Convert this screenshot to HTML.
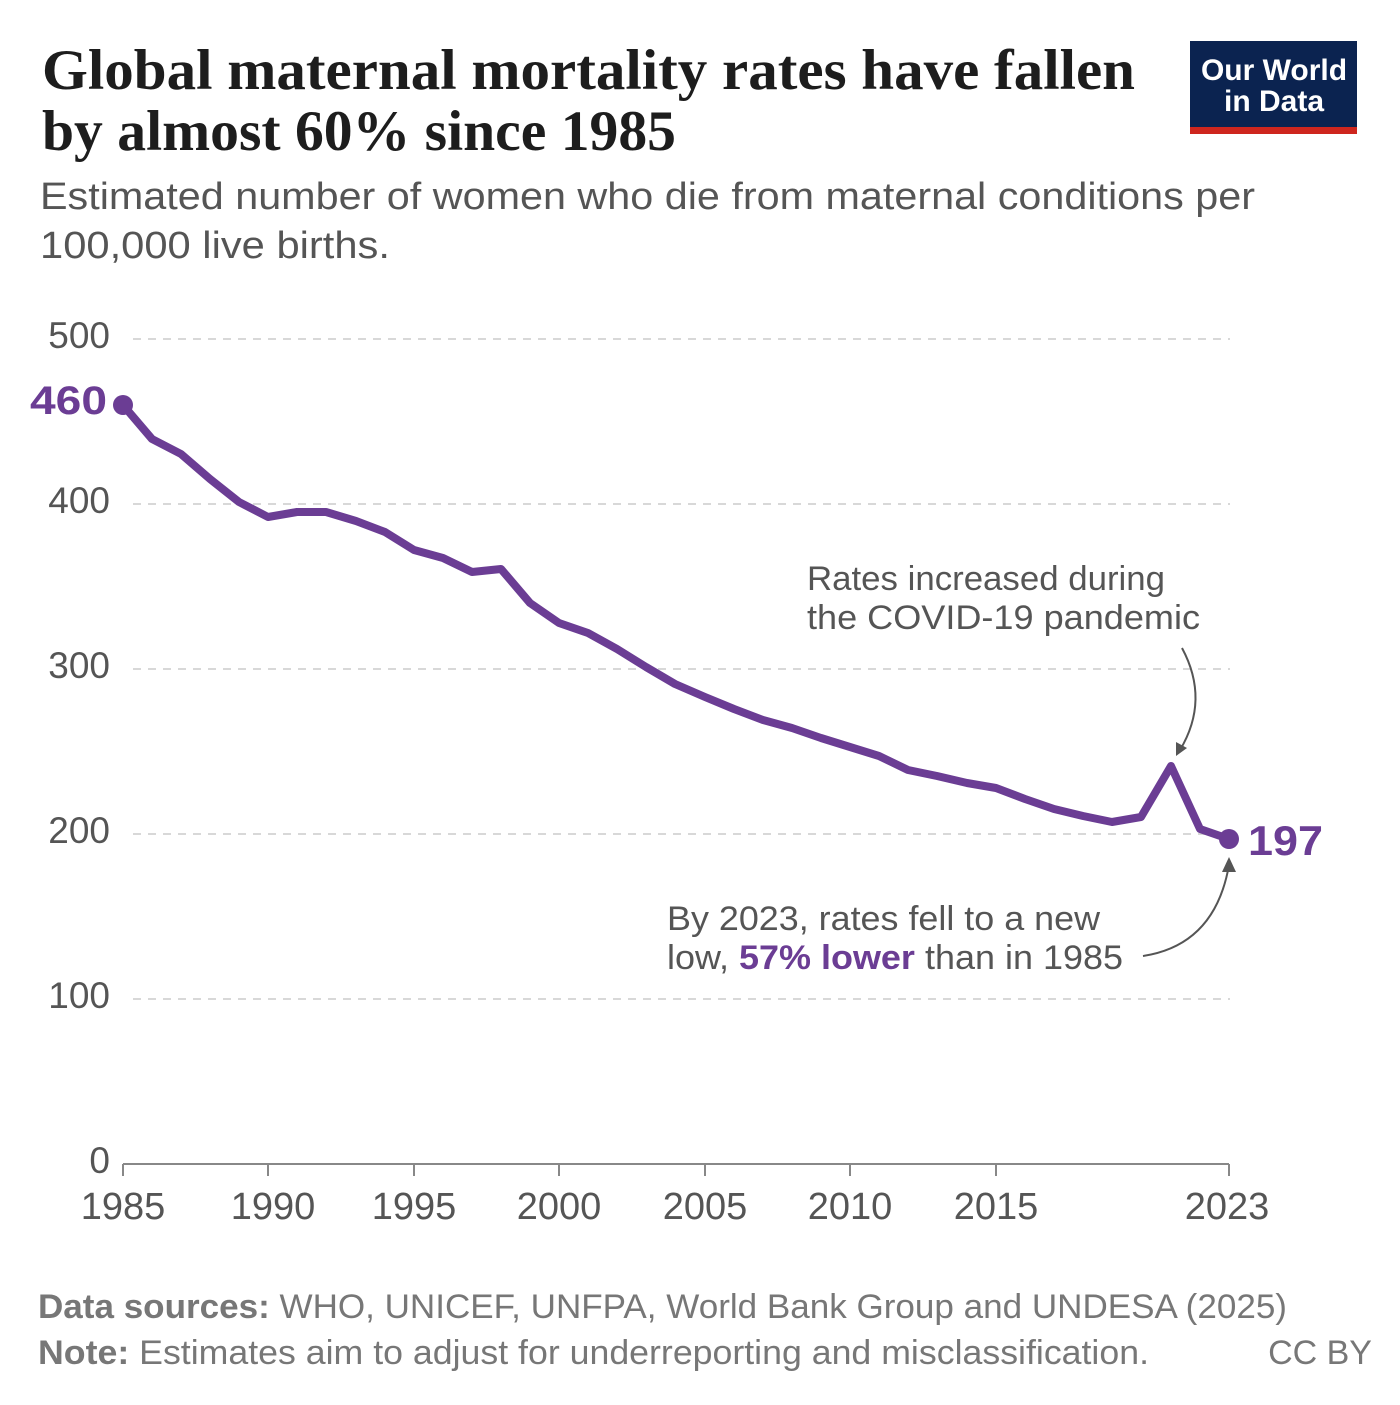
<!DOCTYPE html>
<html><head><meta charset="utf-8"><style>
html,body{margin:0;padding:0;background:#fff;}
body{width:1400px;height:1400px;overflow:hidden;}
</style></head><body>
<svg width="1400" height="1400" viewBox="0 0 1400 1400" xmlns="http://www.w3.org/2000/svg">
<rect width="1400" height="1400" fill="#fff"/>
<g font-family="Liberation Serif, serif" font-weight="bold" font-size="57" fill="#1d1d1d">
<text x="42" y="89" textLength="1093" lengthAdjust="spacingAndGlyphs">Global maternal mortality rates have fallen</text>
<text x="42" y="150" textLength="634" lengthAdjust="spacingAndGlyphs">by almost 60% since 1985</text>
</g>
<rect x="1190" y="41" width="167" height="93" fill="#0b2350"/>
<rect x="1190" y="127" width="167" height="7" fill="#ce261e"/>
<g font-family="Liberation Sans, sans-serif" font-size="30" fill="#fff" text-anchor="middle" font-weight="bold">
<text x="1274" y="80">Our World</text>
<text x="1274" y="111">in Data</text>
</g>
<g font-family="Liberation Sans, sans-serif" font-size="38" fill="#555">
<text x="40" y="209" textLength="1215" lengthAdjust="spacingAndGlyphs">Estimated number of women who die from maternal conditions per</text>
<text x="40" y="258" textLength="350" lengthAdjust="spacingAndGlyphs">100,000 live births.</text>
</g>
<g stroke="#d8d8d8" stroke-width="2" stroke-dasharray="8,7">
<line x1="133" y1="339" x2="1230" y2="339"/>
<line x1="133" y1="504" x2="1230" y2="504"/>
<line x1="133" y1="669" x2="1230" y2="669"/>
<line x1="133" y1="834" x2="1230" y2="834"/>
<line x1="133" y1="999" x2="1230" y2="999"/>
</g>
<g font-family="Liberation Sans, sans-serif" font-size="37" fill="#555" text-anchor="end">
<text x="110" y="348">500</text>
<text x="110" y="513">400</text>
<text x="110" y="678">300</text>
<text x="110" y="843">200</text>
<text x="110" y="1008">100</text>
<text x="110" y="1173">0</text>
</g>
<line x1="123" y1="1164" x2="1229" y2="1164" stroke="#888" stroke-width="2"/>
<g stroke="#888" stroke-width="2">
<line x1="123" y1="1164" x2="123" y2="1176"/><line x1="268" y1="1164" x2="268" y2="1176"/>
<line x1="414" y1="1164" x2="414" y2="1176"/><line x1="559" y1="1164" x2="559" y2="1176"/>
<line x1="705" y1="1164" x2="705" y2="1176"/><line x1="850" y1="1164" x2="850" y2="1176"/>
<line x1="996" y1="1164" x2="996" y2="1176"/><line x1="1229" y1="1164" x2="1229" y2="1176"/>
</g>
<g font-family="Liberation Sans, sans-serif" font-size="38" fill="#555" text-anchor="middle">
<text x="123" y="1219">1985</text><text x="273" y="1219">1990</text><text x="414" y="1219">1995</text>
<text x="559" y="1219">2000</text><text x="705" y="1219">2005</text><text x="850" y="1219">2010</text>
<text x="996" y="1219">2015</text><text x="1227" y="1219">2023</text>
</g>
<polyline fill="none" stroke="#6b3d94" stroke-width="8" stroke-linejoin="round" stroke-linecap="round"
points="123,405 152,439 181,454 210,479 239,502 268,517 297,512 326,512 356,521 385,532 414,550 443,558 472,572 501,569 530,603 559,623 588,633 617,649 646,667 675,684 705,697 734,709 763,720 792,728 821,738 850,747 879,756 908,770 937,776 967,783 996,788 1025,799 1054,809 1083,816 1112,822 1141,817 1171,766 1200,829 1229,839"/>
<circle cx="123" cy="405" r="10" fill="#6b3d94"/>
<circle cx="1229" cy="839" r="10" fill="#6b3d94"/>
<text x="107" y="414" font-family="Liberation Sans, sans-serif" font-size="40" font-weight="bold" fill="#6b3d94" text-anchor="end" textLength="77" lengthAdjust="spacingAndGlyphs">460</text>
<text x="1248" y="855" font-family="Liberation Sans, sans-serif" font-size="42" font-weight="bold" fill="#6b3d94" textLength="75" lengthAdjust="spacingAndGlyphs">197</text>
<g font-family="Liberation Sans, sans-serif" font-size="34" fill="#555">
<text x="807" y="590" textLength="358" lengthAdjust="spacingAndGlyphs">Rates increased during</text>
<text x="807" y="629" textLength="393" lengthAdjust="spacingAndGlyphs">the COVID-19 pandemic</text>
<text x="667" y="930" textLength="433" lengthAdjust="spacingAndGlyphs">By 2023, rates fell to a new</text>
<text x="667" y="969" textLength="456" lengthAdjust="spacingAndGlyphs">low, <tspan fill="#6b3d94" font-weight="bold">57% lower</tspan> than in 1985</text>
</g>
<g fill="none" stroke="#555" stroke-width="2">
<path d="M1182,648 Q1210,700 1180,750"/>
<path d="M1143,956 Q1215,945 1229,865"/>
</g>
<path d="M1176,756 L1176,742 L1187,748 Z" fill="#555"/>
<path d="M1229,857 L1222,872 L1236,872 Z" fill="#555"/>
<g font-family="Liberation Sans, sans-serif" font-size="34" fill="#777">
<text x="38" y="1318" textLength="1249" lengthAdjust="spacingAndGlyphs"><tspan font-weight="bold">Data sources:</tspan> WHO, UNICEF, UNFPA, World Bank Group and UNDESA (2025)</text>
<text x="38" y="1364" textLength="1111" lengthAdjust="spacingAndGlyphs"><tspan font-weight="bold">Note:</tspan> Estimates aim to adjust for underreporting and misclassification.</text>
<text x="1372" y="1364" text-anchor="end">CC BY</text>
</g>
</svg>
</body></html>
